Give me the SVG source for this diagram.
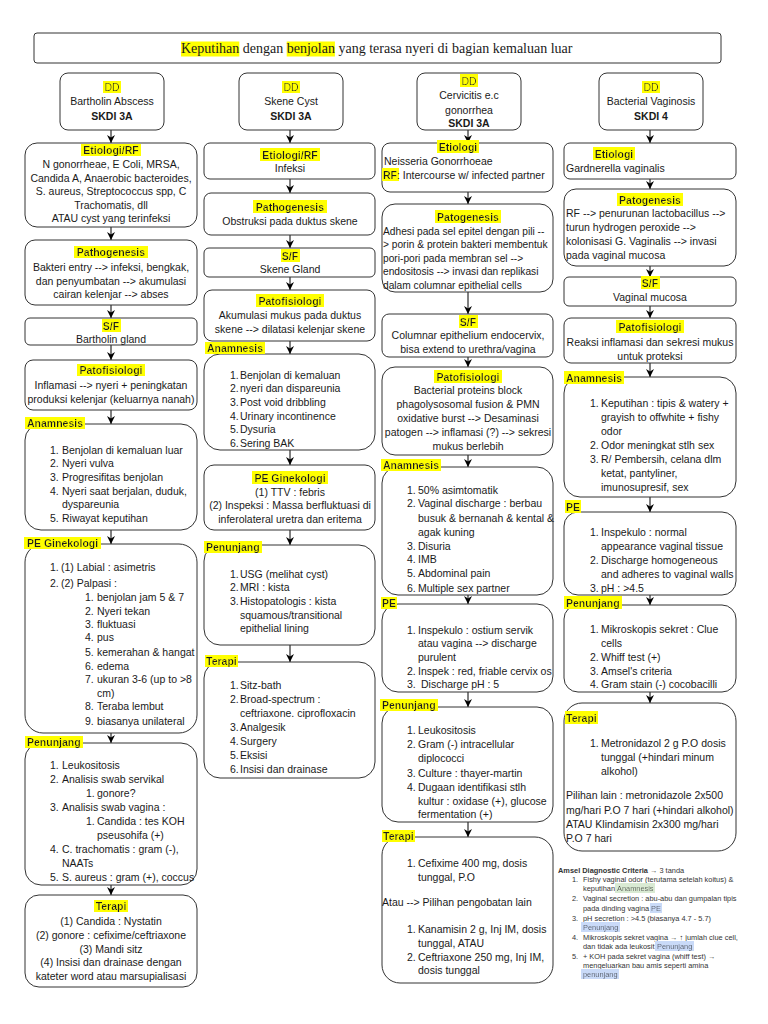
<svg xmlns="http://www.w3.org/2000/svg" width="768" height="1024" viewBox="0 0 768 1024">
<defs>
<style>
.bx{fill:#fff;stroke:#333;stroke-width:1}
.t{font-family:"Liberation Sans",Arial,sans-serif;font-size:10.5px;fill:#1a1a1a}
.m{text-anchor:middle}
.bd{font-weight:bold}
.hl{filter:url(#hl)}
.s{font-family:"Liberation Sans",Arial,sans-serif;font-size:7.4px;fill:#333}
.g{filter:url(#hg)}
.bl{filter:url(#hb)}
.cn line{stroke:#000;stroke-width:1;marker-end:url(#ar)}
</style>
<filter id="hl" x="-0.03" y="0" width="1.06" height="1"><feFlood flood-color="#ffff00"/><feComposite in="SourceGraphic"/></filter>
<filter id="hg" x="-0.03" y="0" width="1.06" height="1"><feFlood flood-color="#d9ead3"/><feComposite in="SourceGraphic"/></filter>
<filter id="hb" x="-0.03" y="0" width="1.06" height="1"><feFlood flood-color="#c9daf8"/><feComposite in="SourceGraphic"/></filter>
<marker id="ar" markerWidth="10" markerHeight="10" refX="8" refY="4" orient="auto" markerUnits="userSpaceOnUse"><path d="M0,0 L8,4 L0,8 L2.5,4 z" fill="#000"/></marker>
</defs>
<rect width="768" height="1024" fill="#fff"/>

<g id="title">
<rect class="bx" x="34" y="33" width="687" height="30" rx="3"/>
<rect x="181" y="41.5" width="58.3" height="15" fill="#ffff00"/>
<rect x="286.7" y="41.5" width="48.2" height="15" fill="#ffff00"/>
<text x="181" y="53" style="font-family:'Liberation Serif','Times New Roman',serif;font-size:14px;fill:#1a1a1a">Keputihan dengan benjolan yang terasa nyeri di bagian kemaluan luar</text>
</g>

<g id="connectors" class="cn">
<line x1="111" y1="130" x2="111" y2="143"/>
<line x1="111" y1="227" x2="111" y2="240"/>
<line x1="111" y1="305" x2="111" y2="318"/>
<line x1="111" y1="345" x2="111" y2="360"/>
<line x1="111" y1="410" x2="111" y2="424"/>
<line x1="111" y1="530" x2="111" y2="544"/>
<line x1="111" y1="733" x2="111" y2="743"/>
<line x1="111" y1="885" x2="111" y2="895"/>
<line x1="290" y1="130" x2="290" y2="143"/>
<line x1="290" y1="179" x2="290" y2="193"/>
<line x1="290" y1="235" x2="290" y2="248"/>
<line x1="290" y1="277" x2="290" y2="290"/>
<line x1="290" y1="341" x2="290" y2="354"/>
<line x1="290" y1="450" x2="290" y2="465"/>
<line x1="290" y1="530" x2="290" y2="545"/>
<line x1="290" y1="645" x2="290" y2="662"/>
<line x1="468" y1="130" x2="468" y2="143"/>
<line x1="468" y1="192" x2="468" y2="204"/>
<line x1="468" y1="292" x2="468" y2="314"/>
<line x1="468" y1="357" x2="468" y2="367"/>
<line x1="468" y1="455" x2="468" y2="467"/>
<line x1="468" y1="595" x2="468" y2="604"/>
<line x1="468" y1="692" x2="468" y2="707"/>
<line x1="468" y1="822" x2="468" y2="837"/>
<line x1="650" y1="130" x2="650" y2="143"/>
<line x1="650" y1="179" x2="650" y2="189"/>
<line x1="650" y1="266" x2="650" y2="277"/>
<line x1="650" y1="306" x2="650" y2="318"/>
<line x1="650" y1="363" x2="650" y2="377"/>
<line x1="650" y1="497" x2="650" y2="512"/>
<line x1="650" y1="595" x2="650" y2="605"/>
<line x1="650" y1="692" x2="650" y2="703"/>
</g>

<!-- Column 1 -->
<g id="c1-dd">
<rect class="bx" x="60" y="73" width="104" height="57" rx="8"/>
<text class="t m hl" x="112" y="91">DD</text>
<text class="t m" x="112" y="105">Bartholin Abscess</text>
<text class="t m bd" x="112" y="120">SKDI 3A</text>
</g>
<g id="c1-etiologi">
<rect class="bx" x="25" y="143" width="172" height="84" rx="12"/>
<text class="t m bd hl" x="111" y="154">Etiologi/RF</text>
<text class="t m" x="111" y="168"><tspan x="111">N gonorrheae, E Coli, MRSA,</tspan><tspan x="111" dy="13.5">Candida A, Anaerobic bacteroides,</tspan><tspan x="111" dy="13.5">S. aureus, Streptococcus spp, C</tspan><tspan x="111" dy="13.5">Trachomatis, dll</tspan><tspan x="111" dy="13.5">ATAU cyst yang terinfeksi</tspan></text>
</g>
<g id="c1-patho">
<rect class="bx" x="25" y="240" width="172" height="65" rx="10"/>
<text class="t m bd hl" x="111" y="256">Pathogenesis</text>
<text class="t m" x="111" y="271"><tspan x="111">Bakteri entry --&gt; infeksi, bengkak,</tspan><tspan x="111" dy="13.5">dan penyumbatan --&gt; akumulasi</tspan><tspan x="111" dy="13.5">cairan kelenjar --&gt; abses</tspan></text>
</g>
<g id="c1-sf">
<rect class="bx" x="25" y="318" width="172" height="27" rx="5"/>
<text class="t m bd hl" x="111" y="329.5">S/F</text>
<text class="t m" x="111" y="342.5">Bartholin gland</text>
</g>
<g id="c1-patof">
<rect class="bx" x="25" y="360" width="172" height="50" rx="8"/>
<text class="t m bd hl" x="111" y="374">Patofisiologi</text>
<text class="t m" x="111" y="389"><tspan x="111">Inflamasi --&gt; nyeri + peningkatan</tspan><tspan x="111" dy="14">produksi kelenjar (keluarnya nanah)</tspan></text>
</g>
<g id="c1-anamnesis">
<rect class="bx" x="25" y="424" width="172" height="106" rx="16"/>
<text class="t bd hl" x="27" y="427">Anamnesis</text>
<text class="t" x="50" y="454"><tspan x="50">1.</tspan><tspan x="50" dy="13.3">2.</tspan><tspan x="50" dy="13.3">3.</tspan><tspan x="50" dy="14.3">4.</tspan><tspan x="50" dy="26.6">5.</tspan></text>
<text class="t" x="62" y="454"><tspan x="62">Benjolan di kemaluan luar</tspan><tspan x="62" dy="13.3">Nyeri vulva</tspan><tspan x="62" dy="13.3">Progresifitas benjolan</tspan><tspan x="62" dy="14.3">Nyeri saat berjalan, duduk,</tspan><tspan x="62" dy="13.3">dyspareunia</tspan><tspan x="62" dy="13.3">Riwayat keputihan</tspan></text>
</g>
<g id="c1-pe">
<rect class="bx" x="25" y="544" width="172" height="189" rx="18"/>
<text class="t bd hl" x="27" y="547">PE Ginekologi</text>
<text class="t" x="50" y="571"><tspan x="50">1.</tspan><tspan x="50" dy="16">2.</tspan></text>
<text class="t" x="61" y="571"><tspan x="61">(1) Labial : asimetris</tspan><tspan x="61" dy="16">(2) Palpasi :</tspan></text>
<text class="t" x="85" y="601"><tspan x="85">1.</tspan><tspan x="85" dy="14">2.</tspan><tspan x="85" dy="13">3.</tspan><tspan x="85" dy="13">4.</tspan><tspan x="85" dy="15">5.</tspan><tspan x="85" dy="14">6.</tspan><tspan x="85" dy="13">7.</tspan><tspan x="85" dy="27">8.</tspan><tspan x="85" dy="15">9.</tspan></text>
<text class="t" x="97" y="601"><tspan x="97">benjolan jam 5 &amp; 7</tspan><tspan x="97" dy="14">Nyeri tekan</tspan><tspan x="97" dy="13">fluktuasi</tspan><tspan x="97" dy="13">pus</tspan><tspan x="97" dy="15">kemerahan &amp; hangat</tspan><tspan x="97" dy="14">edema</tspan><tspan x="97" dy="13">ukuran 3-6 (up to &gt;8</tspan><tspan x="97" dy="14">cm)</tspan><tspan x="97" dy="13">Teraba lembut</tspan><tspan x="97" dy="15">biasanya unilateral</tspan></text>
</g>
<g id="c1-penunjang">
<rect class="bx" x="25" y="743" width="172" height="142" rx="16"/>
<text class="t bd hl" x="27" y="746">Penunjang</text>
<text class="t" x="50" y="769"><tspan x="50">1.</tspan><tspan x="50" dy="14">2.</tspan><tspan x="50" dy="28">3.</tspan><tspan x="50" dy="42">4.</tspan><tspan x="50" dy="28">5.</tspan></text>
<text class="t" x="62" y="769"><tspan x="62">Leukositosis</tspan><tspan x="62" dy="14">Analisis swab servikal</tspan><tspan x="62" dy="28">Analisis swab vagina :</tspan><tspan x="62" dy="42">C. trachomatis : gram (-),</tspan><tspan x="62" dy="14">NAATs</tspan><tspan x="62" dy="14">S. aureus : gram (+), coccus</tspan></text>
<text class="t" x="86" y="797"><tspan x="86">1.</tspan><tspan x="86" dy="28">1.</tspan></text>
<text class="t" x="97" y="797"><tspan x="97">gonore?</tspan><tspan x="97" dy="28">Candida : tes KOH</tspan><tspan x="97" dy="14">pseusohifa (+)</tspan></text>
</g>
<g id="c1-terapi">
<rect class="bx" x="25" y="895" width="172" height="92" rx="14"/>
<text class="t m bd hl" x="111" y="910">Terapi</text>
<text class="t m" x="111" y="925"><tspan x="111">(1) Candida : Nystatin</tspan><tspan x="111" dy="13.5">(2) gonore : cefixime/ceftriaxone</tspan><tspan x="111" dy="14">(3) Mandi sitz</tspan><tspan x="111" dy="13.5">(4) Insisi dan drainase dengan</tspan><tspan x="111" dy="13.5">kateter word atau marsupialisasi</tspan></text>
</g>

<!-- Column 2 -->
<g id="c2-dd">
<rect class="bx" x="239" y="73" width="104" height="57" rx="8"/>
<text class="t m hl" x="291" y="91">DD</text>
<text class="t m" x="291" y="105">Skene Cyst</text>
<text class="t m bd" x="291" y="120">SKDI 3A</text>
</g>
<g id="c2-etiologi">
<rect class="bx" x="204" y="143" width="171" height="36" rx="6"/>
<text class="t m bd hl" x="290" y="158.5">Etiologi/RF</text>
<text class="t m" x="290" y="172">Infeksi</text>
</g>
<g id="c2-patho">
<rect class="bx" x="204" y="193" width="171" height="42" rx="7"/>
<text class="t m bd hl" x="290" y="210.5">Pathogenesis</text>
<text class="t m" x="290" y="224.5">Obstruksi pada duktus skene</text>
</g>
<g id="c2-sf">
<rect class="bx" x="204" y="248" width="171" height="29" rx="5"/>
<text class="t m bd hl" x="290" y="259.5">S/F</text>
<text class="t m" x="290" y="272.5">Skene Gland</text>
</g>
<g id="c2-patof">
<rect class="bx" x="204" y="290" width="171" height="51" rx="8"/>
<text class="t m bd hl" x="290" y="304.5">Patofisiologi</text>
<text class="t m" x="290" y="318.5"><tspan x="290">Akumulasi mukus pada duktus</tspan><tspan x="290" dy="14">skene --&gt; dilatasi kelenjar skene</tspan></text>
</g>
<g id="c2-anamnesis">
<rect class="bx" x="204" y="354" width="171" height="96" rx="16"/>
<text class="t bd hl" x="207" y="352">Anamnesis</text>
<text class="t" x="230" y="378.5"><tspan x="230">1.</tspan><tspan x="230" dy="13.5">2.</tspan><tspan x="230" dy="13.5">3.</tspan><tspan x="230" dy="14">4.</tspan><tspan x="230" dy="13.5">5.</tspan><tspan x="230" dy="13.5">6.</tspan></text>
<text class="t" x="240" y="378.5"><tspan x="240">Benjolan di kemaluan</tspan><tspan x="240" dy="13.5">nyeri dan dispareunia</tspan><tspan x="240" dy="13.5">Post void dribbling</tspan><tspan x="240" dy="14">Urinary incontinence</tspan><tspan x="240" dy="13.5">Dysuria</tspan><tspan x="240" dy="13.5">Sering BAK</tspan></text>
</g>
<g id="c2-pe">
<rect class="bx" x="204" y="465" width="171" height="65" rx="10"/>
<text class="t m bd hl" x="290" y="481.5">PE Ginekologi</text>
<text class="t m" x="290" y="495.5"><tspan x="290">(1) TTV : febris</tspan><tspan x="290" dy="13.5">(2) Inspeksi : Massa berfluktuasi di</tspan><tspan x="290" dy="14">inferolateral uretra dan eritema</tspan></text>
</g>
<g id="c2-penunjang">
<rect class="bx" x="204" y="545" width="171" height="100" rx="16"/>
<text class="t bd hl" x="206" y="551">Penunjang</text>
<text class="t" x="230" y="577.5"><tspan x="230">1.</tspan><tspan x="230" dy="13.5">2.</tspan><tspan x="230" dy="14">3.</tspan></text>
<text class="t" x="240" y="577.5"><tspan x="240">USG (melihat cyst)</tspan><tspan x="240" dy="13.5">MRI : kista</tspan><tspan x="240" dy="14">Histopatologis : kista</tspan><tspan x="240" dy="13.5">squamous/transitional</tspan><tspan x="240" dy="13.5">epithelial lining</tspan></text>
</g>
<g id="c2-terapi">
<rect class="bx" x="204" y="662" width="171" height="116" rx="16"/>
<text class="t bd hl" x="206" y="665">Terapi</text>
<text class="t" x="230" y="688.5"><tspan x="230">1.</tspan><tspan x="230" dy="14">2.</tspan><tspan x="230" dy="28">3.</tspan><tspan x="230" dy="14.5">4.</tspan><tspan x="230" dy="13.5">5.</tspan><tspan x="230" dy="14">6.</tspan></text>
<text class="t" x="240" y="688.5"><tspan x="240">Sitz-bath</tspan><tspan x="240" dy="14">Broad-spectrum :</tspan><tspan x="240" dy="14">ceftriaxone. ciprofloxacin</tspan><tspan x="240" dy="14">Analgesik</tspan><tspan x="240" dy="14.5">Surgery</tspan><tspan x="240" dy="13.5">Eksisi</tspan><tspan x="240" dy="14">Insisi dan drainase</tspan></text>
</g>

<!-- Column 3 -->
<g id="c3-dd">
<rect class="bx" x="417" y="73" width="104" height="57" rx="8"/>
<text class="t m hl" x="469" y="84.5">DD</text>
<text class="t m" x="469" y="98.5">Cervicitis e.c</text>
<text class="t m" x="469" y="113.5">gonorrhea</text>
<text class="t m bd" x="469" y="127">SKDI 3A</text>
</g>
<g id="c3-etiologi">
<rect class="bx" x="382" y="143" width="171" height="49" rx="8"/>
<text class="t m bd hl" x="458" y="150.5">Etiologi</text>
<text class="t" x="384" y="164.5">Neisseria Gonorrhoeae</text>
<text class="t bd hl" x="383" y="178.5">RF</text>
<text class="t" x="397" y="178.5"> : Intercourse w/ infected partner</text>
</g>
<g id="c3-patogenesis">
<rect class="bx" x="382" y="204" width="171" height="88" rx="13"/>
<text class="t m bd hl" x="468" y="220.5">Patogenesis</text>
<text class="t" x="383" y="234.5" style="font-size:10.2px"><tspan x="383">Adhesi pada sel epitel dengan pili --</tspan><tspan x="383" dy="13.5">&gt; porin &amp; protein bakteri membentuk</tspan><tspan x="383" dy="13.5">pori-pori pada membran sel --&gt;</tspan><tspan x="383" dy="13.5">endositosis --&gt; invasi dan replikasi</tspan><tspan x="383" dy="13.5">dalam columnar epithelial cells</tspan></text>
</g>
<g id="c3-sf">
<rect class="bx" x="382" y="314" width="171" height="43" rx="7"/>
<text class="t m bd hl" x="468" y="325.5">S/F</text>
<text class="t m" x="468" y="338.5"><tspan x="468">Columnar epithelium endocervix,</tspan><tspan x="468" dy="14">bisa extend to urethra/vagina</tspan></text>
</g>
<g id="c3-patof">
<rect class="bx" x="382" y="367" width="171" height="88" rx="13"/>
<text class="t m bd hl" x="468" y="380.5">Patofisiologi</text>
<text class="t m" x="468" y="393.5"><tspan x="468">Bacterial proteins block</tspan><tspan x="468" dy="14">phagolysosomal fusion &amp; PMN</tspan><tspan x="468" dy="14">oxidative burst --&gt; Desaminasi</tspan><tspan x="468" dy="14">patogen --&gt; inflamasi (?) --&gt; sekresi</tspan><tspan x="468" dy="14">mukus berlebih</tspan></text>
</g>
<g id="c3-anamnesis">
<rect class="bx" x="382" y="467" width="171" height="128" rx="16"/>
<text class="t bd hl" x="383" y="469">Anamnesis</text>
<text class="t" x="407" y="493.5"><tspan x="407">1.</tspan><tspan x="407" dy="13">2.</tspan><tspan x="407" dy="43">3.</tspan><tspan x="407" dy="13">4.</tspan><tspan x="407" dy="14">5.</tspan><tspan x="407" dy="15">6.</tspan></text>
<text class="t" x="418" y="493.5"><tspan x="418">50% asimtomatik</tspan><tspan x="418" dy="13">Vaginal discharge : berbau</tspan><tspan x="418" dy="15">busuk &amp; bernanah &amp; kental &amp;</tspan><tspan x="418" dy="14">agak kuning</tspan><tspan x="418" dy="14">Disuria</tspan><tspan x="418" dy="13">IMB</tspan><tspan x="418" dy="14">Abdominal pain</tspan><tspan x="418" dy="15">Multiple sex partner</tspan></text>
</g>
<g id="c3-pe">
<rect class="bx" x="382" y="604" width="171" height="88" rx="16"/>
<text class="t bd hl" x="382" y="607">PE</text>
<text class="t" x="407" y="633.5"><tspan x="407">1.</tspan><tspan x="407" dy="41">2.</tspan><tspan x="407" dy="13">3.</tspan></text>
<text class="t" x="418" y="633.5"><tspan x="418">Inspekulo : ostium servik</tspan><tspan x="418" dy="13.5">atau vagina --&gt; discharge</tspan><tspan x="418" dy="13.5">purulent</tspan><tspan x="418" dy="14">Inspek : red, friable cervix os</tspan><tspan x="421" dy="13">Discharge pH : 5</tspan></text>
</g>
<g id="c3-penunjang">
<rect class="bx" x="382" y="707" width="171" height="115" rx="16"/>
<text class="t bd hl" x="382" y="709">Penunjang</text>
<text class="t" x="407" y="733.5"><tspan x="407">1.</tspan><tspan x="407" dy="14">2.</tspan><tspan x="407" dy="29">3.</tspan><tspan x="407" dy="14">4.</tspan></text>
<text class="t" x="418" y="733.5"><tspan x="418">Leukositosis</tspan><tspan x="418" dy="14">Gram (-) intracellular</tspan><tspan x="418" dy="14">diplococci</tspan><tspan x="418" dy="15">Culture : thayer-martin</tspan><tspan x="418" dy="14">Dugaan identifikasi stlh</tspan><tspan x="418" dy="14">kultur : oxidase (+), glucose</tspan><tspan x="418" dy="13.5">fermentation (+)</tspan></text>
</g>
<g id="c3-terapi">
<rect class="bx" x="382" y="837" width="171" height="146" rx="18"/>
<text class="t bd hl" x="383" y="840">Terapi</text>
<text class="t" x="407" y="866.5">1.</text>
<text class="t" x="418" y="866.5"><tspan x="418">Cefixime 400 mg, dosis</tspan><tspan x="418" dy="14">tunggal, P.O</tspan></text>
<text class="t" x="382" y="905.5">Atau --&gt; Pilihan pengobatan lain</text>
<text class="t" x="407" y="932.5"><tspan x="407">1.</tspan><tspan x="407" dy="28">2.</tspan></text>
<text class="t" x="418" y="932.5"><tspan x="418">Kanamisin 2 g, Inj IM, dosis</tspan><tspan x="418" dy="14">tunggal, ATAU</tspan><tspan x="418" dy="14">Ceftriaxone 250 mg, Inj IM,</tspan><tspan x="418" dy="13.5">dosis tunggal</tspan></text>
</g>

<!-- Column 4 -->
<g id="c4-dd">
<rect class="bx" x="599" y="73" width="104" height="57" rx="8"/>
<text class="t m hl" x="651" y="91">DD</text>
<text class="t m" x="651" y="105">Bacterial Vaginosis</text>
<text class="t m bd" x="651" y="120">SKDI 4</text>
</g>
<g id="c4-etiologi">
<rect class="bx" x="564" y="143" width="172" height="36" rx="6"/>
<text class="t m bd hl" x="614" y="157.5">Etiologi</text>
<text class="t" x="566" y="171.5">Gardnerella vaginalis</text>
</g>
<g id="c4-patogenesis">
<rect class="bx" x="564" y="189" width="172" height="77" rx="12"/>
<text class="t m bd hl" x="650" y="203.5">Patogenesis</text>
<text class="t" x="566" y="216.5"><tspan x="566">RF --&gt; penurunan lactobacillus --&gt;</tspan><tspan x="566" dy="14">turun hydrogen peroxide --&gt;</tspan><tspan x="566" dy="14">kolonisasi G. Vaginalis --&gt; invasi</tspan><tspan x="566" dy="14">pada vaginal mucosa</tspan></text>
</g>
<g id="c4-sf">
<rect class="bx" x="564" y="277" width="172" height="29" rx="5"/>
<text class="t m bd hl" x="650" y="286.5">S/F</text>
<text class="t m" x="650" y="300.5">Vaginal mucosa</text>
</g>
<g id="c4-patof">
<rect class="bx" x="564" y="318" width="172" height="45" rx="7"/>
<text class="t m bd hl" x="650" y="330.5">Patofisiologi</text>
<text class="t m" x="650" y="345.5"><tspan x="650">Reaksi inflamasi dan sekresi mukus</tspan><tspan x="650" dy="14">untuk proteksi</tspan></text>
</g>
<g id="c4-anamnesis">
<rect class="bx" x="564" y="377" width="172" height="120" rx="16"/>
<text class="t bd hl" x="566" y="381.5">Anamnesis</text>
<text class="t" x="590" y="406.5"><tspan x="590">1.</tspan><tspan x="590" dy="42">2.</tspan><tspan x="590" dy="14">3.</tspan></text>
<text class="t" x="601" y="406.5"><tspan x="601">Keputihan : tipis &amp; watery +</tspan><tspan x="601" dy="14">grayish to offwhite + fishy</tspan><tspan x="601" dy="14">odor</tspan><tspan x="601" dy="14">Odor meningkat stlh sex</tspan><tspan x="601" dy="14">R/ Pembersih, celana dlm</tspan><tspan x="601" dy="14">ketat, pantyliner,</tspan><tspan x="601" dy="14">imunosupresif, sex</tspan></text>
</g>
<g id="c4-pe">
<rect class="bx" x="564" y="512" width="172" height="83" rx="14"/>
<text class="t bd hl" x="566" y="510.5">PE</text>
<text class="t" x="590" y="535.5"><tspan x="590">1.</tspan><tspan x="590" dy="28">2.</tspan><tspan x="590" dy="28">3.</tspan></text>
<text class="t" x="601" y="535.5"><tspan x="601">Inspekulo : normal</tspan><tspan x="601" dy="14">appearance vaginal tissue</tspan><tspan x="601" dy="14">Discharge homogeneous</tspan><tspan x="601" dy="14">and adheres to vaginal walls</tspan><tspan x="601" dy="14">pH : &gt;4.5</tspan></text>
</g>
<g id="c4-penunjang">
<rect class="bx" x="564" y="605" width="172" height="87" rx="14"/>
<text class="t bd hl" x="566" y="606.5">Penunjang</text>
<text class="t" x="590" y="632.5"><tspan x="590">1.</tspan><tspan x="590" dy="28">2.</tspan><tspan x="590" dy="14">3.</tspan><tspan x="590" dy="13">4.</tspan></text>
<text class="t" x="601" y="632.5"><tspan x="601">Mikroskopis sekret : Clue</tspan><tspan x="601" dy="14">cells</tspan><tspan x="601" dy="14">Whiff test (+)</tspan><tspan x="601" dy="14">Amsel's criteria</tspan><tspan x="601" dy="13">Gram stain (-) cocobacilli</tspan></text>
</g>
<g id="c4-terapi">
<rect class="bx" x="564" y="703" width="172" height="148" rx="18"/>
<text class="t bd hl" x="566" y="721.5">Terapi</text>
<text class="t" x="590" y="746.5">1.</text>
<text class="t" x="601" y="746.5"><tspan x="601">Metronidazol 2 g P.O dosis</tspan><tspan x="601" dy="14">tunggal (+hindari minum</tspan><tspan x="601" dy="14">alkohol)</tspan></text>
<text class="t" x="566" y="798.5"><tspan x="566">Pilihan lain : metronidazole 2x500</tspan><tspan x="566" dy="15">mg/hari P.O 7 hari (+hindari alkohol)</tspan><tspan x="566" dy="14">ATAU Klindamisin 2x300 mg/hari</tspan><tspan x="566" dy="14">P.O 7 hari</tspan></text>
</g>

<g id="amsel">
<text class="s" x="558" y="872.5"><tspan font-weight="bold">Amsel Diagnostic Criteria</tspan> → 3 tanda</text>
<text class="s" x="572" y="881.5"><tspan x="572">1.</tspan><tspan x="572" dy="19">2.</tspan><tspan x="572" dy="20">3.</tspan><tspan x="572" dy="19">4.</tspan><tspan x="572" dy="19">5.</tspan></text>
<text class="s" x="583" y="881.5">Fishy vaginal odor (terutama setelah koitus) &amp;</text>
<text class="s" x="583" y="890.5">keputihan</text>
<text class="s g" x="617" y="890.5">Anamnesis</text>
<text class="s" x="583" y="900.5">Vaginal secretion : abu-abu dan gumpalan tipis</text>
<text class="s" x="583" y="910.5">pada dinding vagina</text>
<text class="s bl" x="651" y="910.5">PE</text>
<text class="s" x="583" y="920.5">pH secretion : &gt;4.5 (biasanya 4.7 - 5.7)</text>
<text class="s bl" x="583" y="929.5">Penunjang</text>
<text class="s" x="583" y="939.5">Mikroskopis sekret vagina → ↑ jumlah clue cell,</text>
<text class="s" x="583" y="948.5">dan tidak ada leukosit</text>
<text class="s bl" x="657" y="948.5">Penunjang</text>
<text class="s" x="583" y="958.5">+ KOH pada sekret vagina (whiff test) →</text>
<text class="s" x="583" y="967.5">mengeluarkan bau amis seperti amina</text>
<text class="s bl" x="583" y="976.5">penunjang</text>
</g>
</svg>
